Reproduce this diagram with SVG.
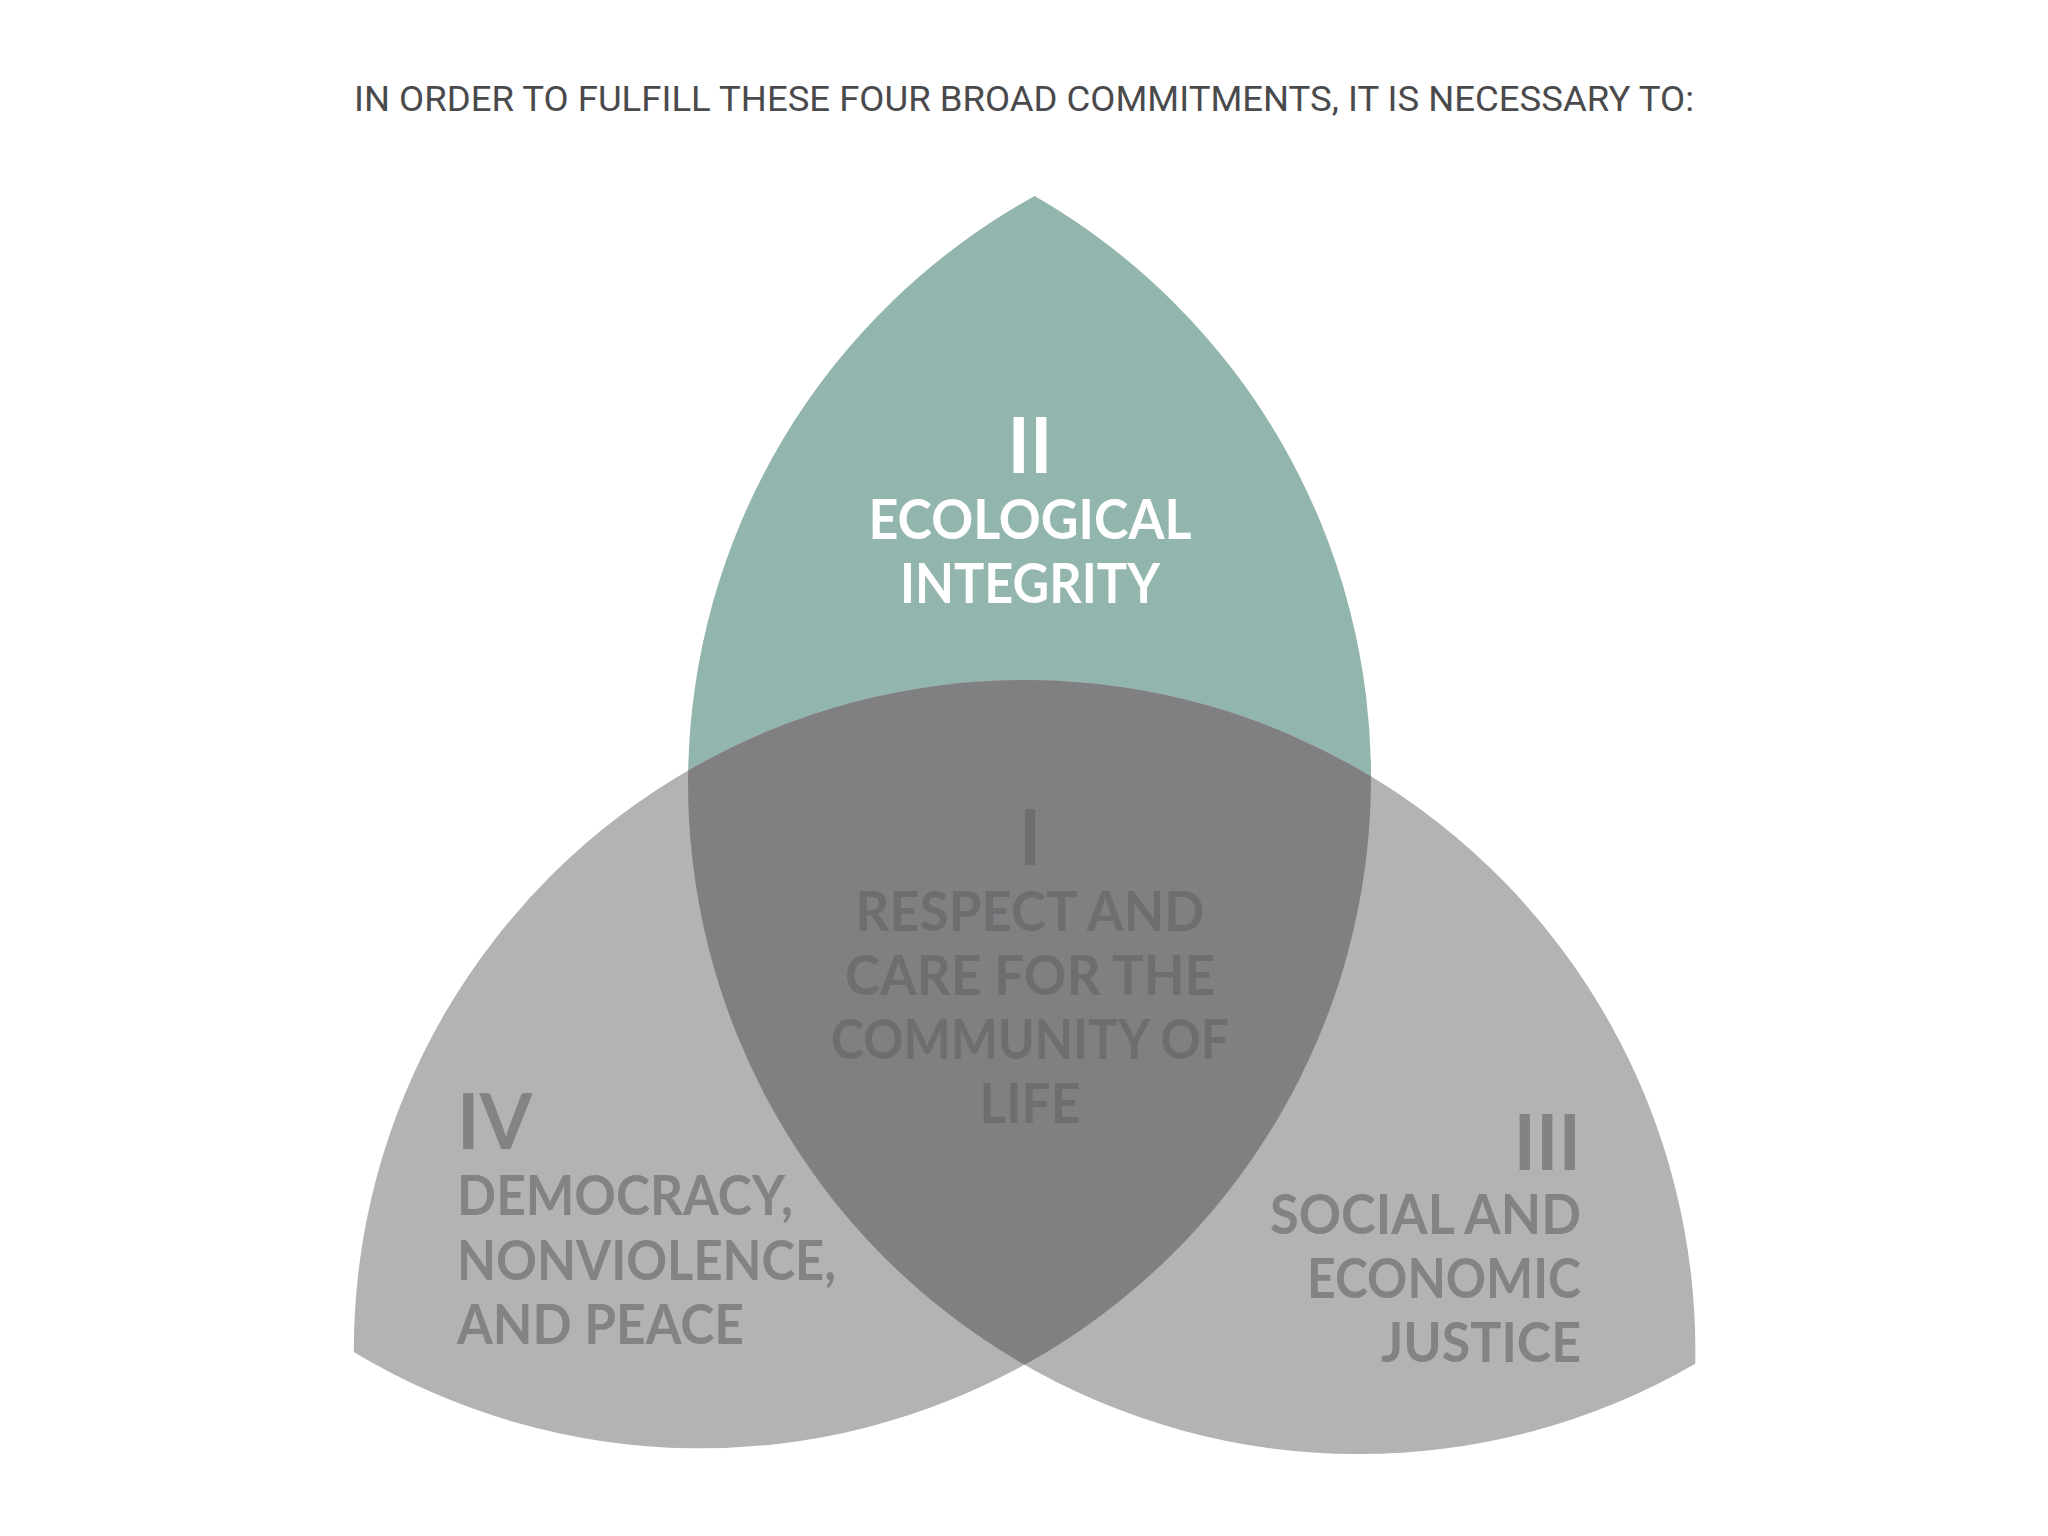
<svg xmlns="http://www.w3.org/2000/svg" width="2048" height="1536" viewBox="0 0 2048 1536">
  <style>
    .title { font-family: Roboto, "Liberation Sans", sans-serif; font-size: 35px; fill: #4a4a4c; }
    .lbl { font-family: Lato, "Noto Sans", "Liberation Sans", sans-serif; font-weight: 700; text-anchor: middle; }
    .num { font-size: 76px; }
    .txt { font-size: 56px; }
    .green { fill: #92b5ad; }
    .gray { fill: #b3b2b4; }
    .dark { fill: #807f82; }
    .t-white { fill: #ffffff; }
    .t-side { fill: #838285; }
    .t-center { fill: #6e6d70; }
  </style>
  <rect width="2048" height="1536" fill="#ffffff"/>
  <text class="title" x="1024" y="111" text-anchor="middle" textLength="1340" lengthAdjust="spacingAndGlyphs">IN ORDER TO FULFILL THESE FOUR BROAD COMMITMENTS, IT IS NECESSARY TO:</text>

  <g id="node-II">
    <path class="green" transform="translate(-2 0) rotate(0.5 1029.9 970.5)" d="M 1029.9 196 A 670.8 670.8 0 0 0 1029.9 1364.8 A 670.8 670.8 0 0 0 1029.9 196 Z"/>
    <text class="lbl num t-white" x="1030" y="473">II</text>
    <text class="lbl txt t-white" x="1030" y="539" textLength="323" lengthAdjust="spacingAndGlyphs">ECOLOGICAL</text>
    <text class="lbl txt t-white" x="1030" y="603" textLength="260" lengthAdjust="spacingAndGlyphs">INTEGRITY</text>
  </g>

  <g id="node-IV">
    <path class="gray" transform="translate(-2 0) rotate(0.5 1029.9 970.5)" d="M 359.15 1357.8 A 670.8 670.8 0 0 1 1371.35 773.4 A 670.8 670.8 0 0 1 359.15 1357.8 Z"/>
    <text class="lbl num t-side" x="457" y="1149" style="text-anchor:start">IV</text>
    <text class="lbl txt t-side" x="457" y="1215" style="text-anchor:start" textLength="336" lengthAdjust="spacingAndGlyphs">DEMOCRACY,</text>
    <text class="lbl txt t-side" x="457" y="1280" style="text-anchor:start" textLength="379" lengthAdjust="spacingAndGlyphs">NONVIOLENCE,</text>
    <text class="lbl txt t-side" x="457" y="1344" style="text-anchor:start" textLength="287" lengthAdjust="spacingAndGlyphs">AND PEACE</text>
  </g>

  <g id="node-III">
    <path class="gray" transform="translate(-2 0) rotate(0.5 1029.9 970.5)" d="M 688.45 773.4 A 670.8 670.8 0 0 1 1700.65 1357.8 A 670.8 670.8 0 0 1 688.45 773.4 Z"/>
    <text class="lbl num t-side" x="1581" y="1170" style="text-anchor:end">III</text>
    <text class="lbl txt t-side" x="1581" y="1234" style="text-anchor:end" textLength="311" lengthAdjust="spacingAndGlyphs">SOCIAL AND</text>
    <text class="lbl txt t-side" x="1581" y="1298" style="text-anchor:end" textLength="274" lengthAdjust="spacingAndGlyphs">ECONOMIC</text>
    <text class="lbl txt t-side" x="1581" y="1362" style="text-anchor:end" textLength="200" lengthAdjust="spacingAndGlyphs">JUSTICE</text>
  </g>

  <g id="node-I">
    <path class="dark" transform="translate(-2 0) rotate(0.5 1029.9 970.5)" d="M 688.45 773.4 A 670.8 670.8 0 0 1 1371.35 773.4 A 670.8 670.8 0 0 1 1029.9 1364.8 A 670.8 670.8 0 0 1 688.45 773.4 Z"/>
    <text class="lbl num t-center" x="1030" y="865">I</text>
    <text class="lbl txt t-center" x="1030" y="931" textLength="349" lengthAdjust="spacingAndGlyphs">RESPECT AND</text>
    <text class="lbl txt t-center" x="1030" y="995" textLength="370" lengthAdjust="spacingAndGlyphs">CARE FOR THE</text>
    <text class="lbl txt t-center" x="1030" y="1059" textLength="398" lengthAdjust="spacingAndGlyphs">COMMUNITY OF</text>
    <text class="lbl txt t-center" x="1030" y="1123" textLength="101" lengthAdjust="spacingAndGlyphs">LIFE</text>
  </g>

  <g id="connectors"/>
</svg>
